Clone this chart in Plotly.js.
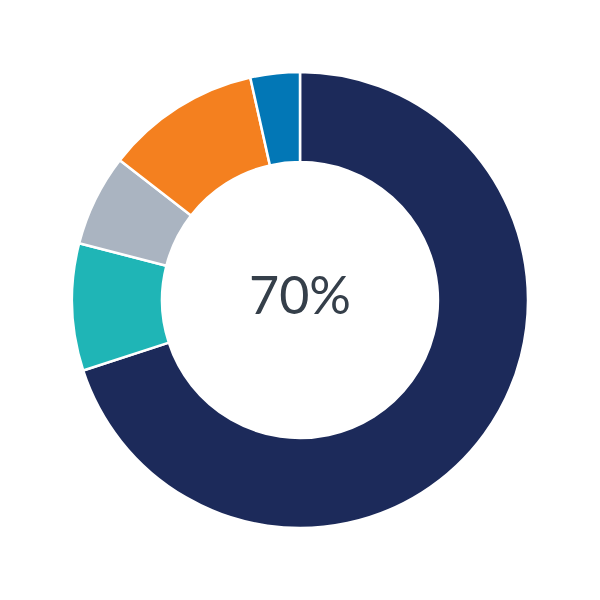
<!DOCTYPE html>
<html>
<head>
<meta charset="utf-8">
<script src="https://cdn.plot.ly/plotly-3.0.1.min.js"></script>
<style>
  html, body { margin: 0; padding: 0; background: #ffffff; }
  #chart { width: 600px; height: 600px; }
</style>
</head>
<body>
<div id="chart"></div>
<script>
  // slice shares (clockwise from 12 o'clock)
  var labels = ['A', 'B', 'C', 'D', 'E'];
  var values = [70, 9, 6.5, 11, 3.5];
  var colors = ['#1c2a5a', '#1fb5b6', '#aab4c1', '#f4801f', '#0277b6'];
  var centerText = '70%';

  var trace = {
    type: 'pie',
    labels: labels,
    values: values,
    hole: 0.605,
    sort: false,
    direction: 'clockwise',
    rotation: 0,
    textinfo: 'none',
    hoverinfo: 'none',
    marker: { colors: colors, line: { color: '#ffffff', width: 2.5 } },
    domain: { x: [0.12, 0.88], y: [0.12, 0.88] }
  };

  var layout = {
    width: 600,
    height: 600,
    margin: { l: 0, r: 0, t: 0, b: 0 },
    showlegend: false,
    paper_bgcolor: '#ffffff',
    annotations: [{
      text: centerText,
      x: 0.5, y: 0.51,
      xref: 'paper', yref: 'paper',
      showarrow: false,
      font: { family: 'Lato, sans-serif', size: 52, color: '#353f4a' }
    }]
  };

  Plotly.newPlot('chart', [trace], layout, { staticPlot: true });
</script>
</body>
</html>
